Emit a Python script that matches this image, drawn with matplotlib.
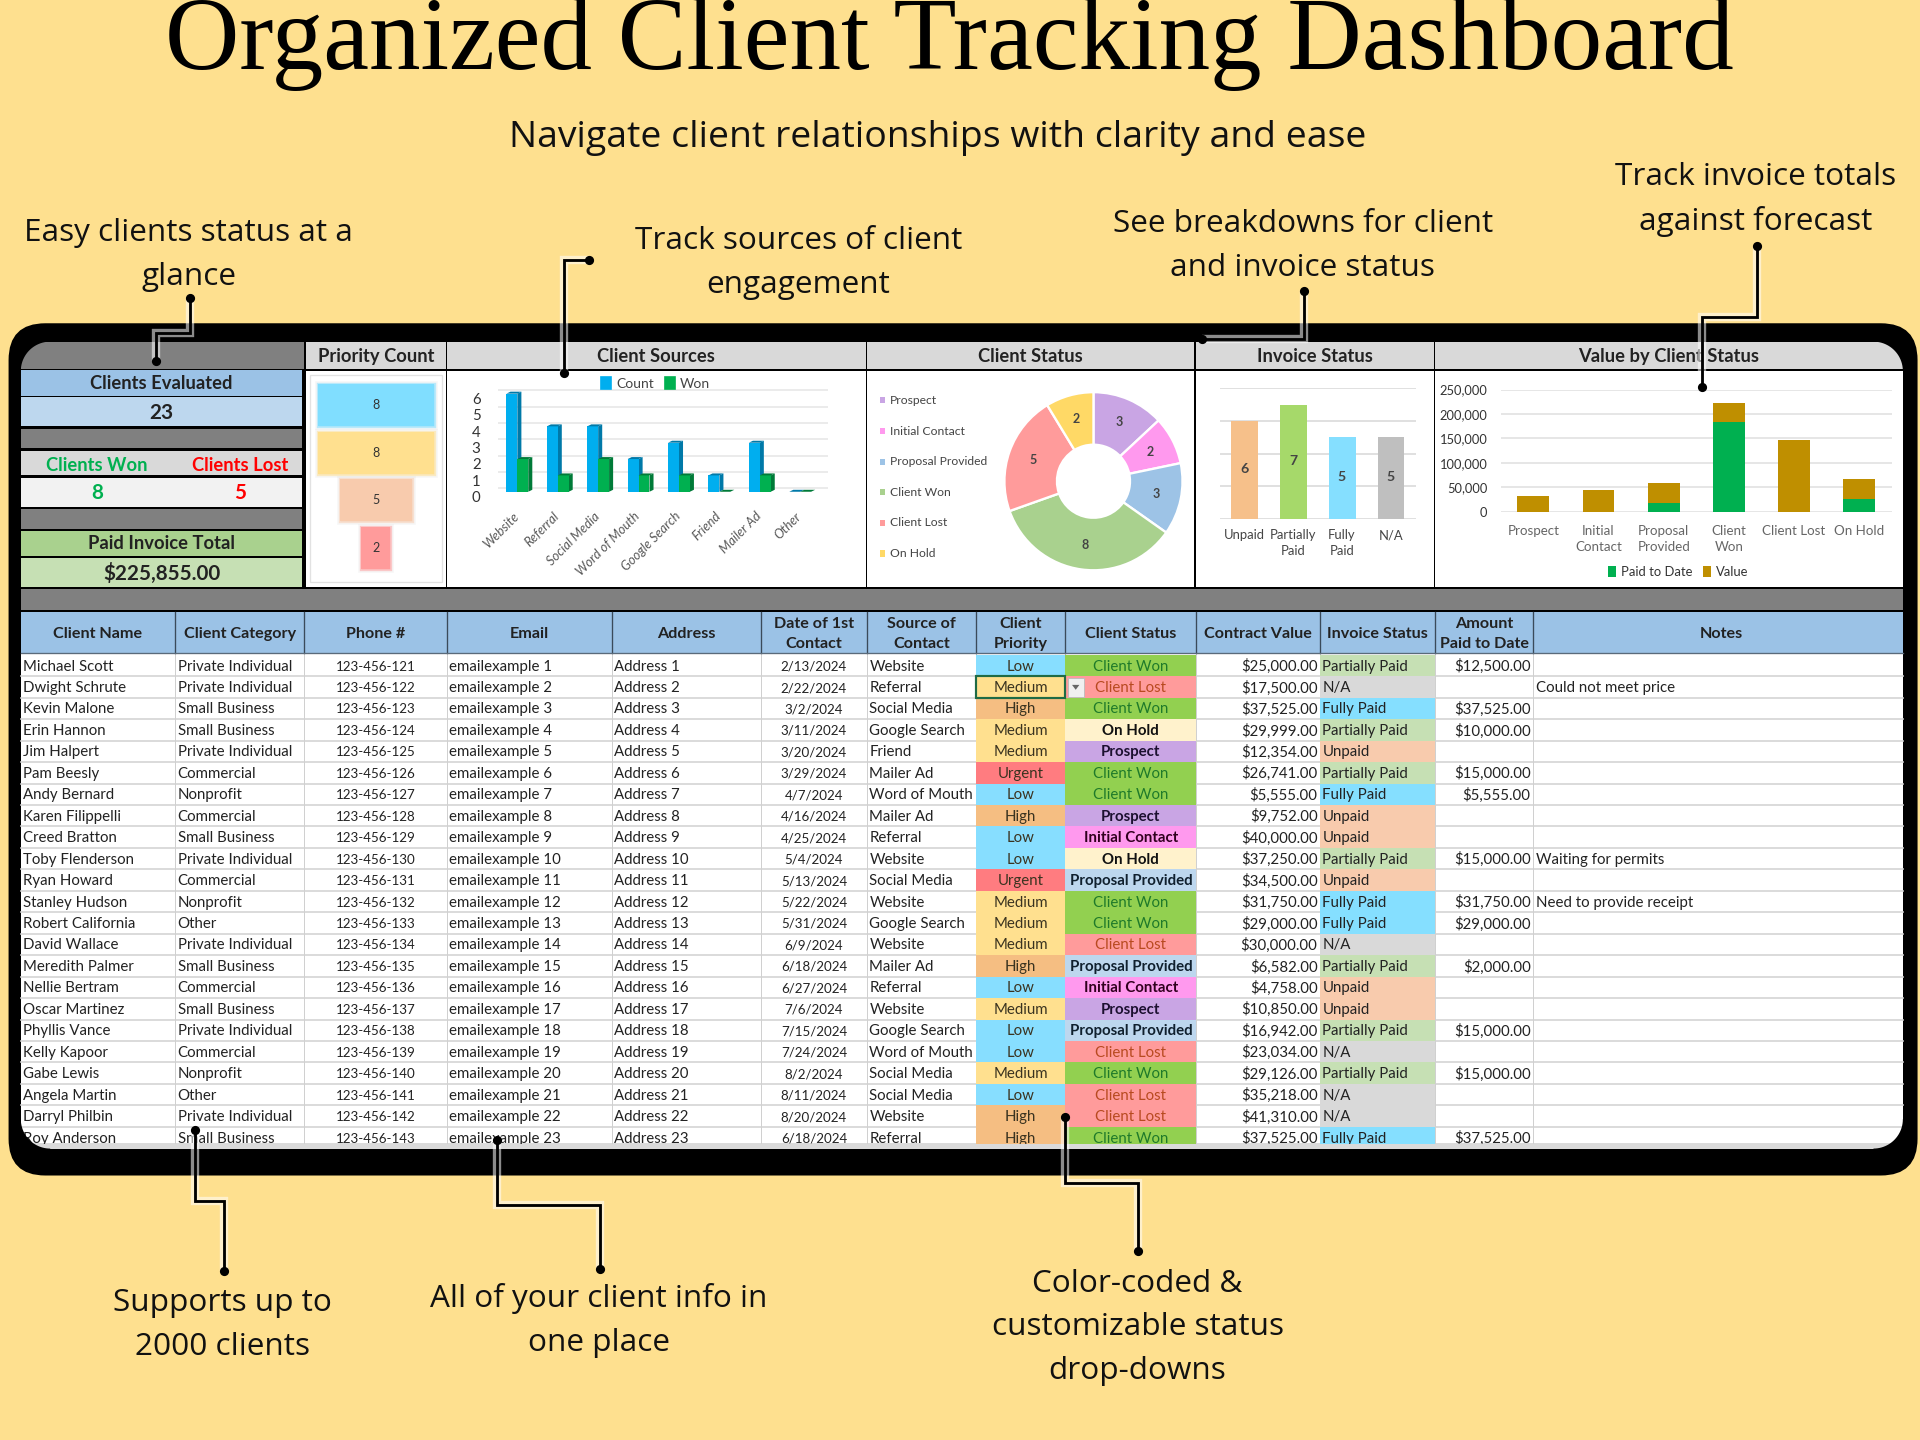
import matplotlib
matplotlib.use('Agg')
import matplotlib.pyplot as plt
import matplotlib.patheffects as pe
from matplotlib.patches import FancyBboxPatch, Rectangle, Polygon
from matplotlib.transforms import ScaledTranslation
import numpy as np

# Everything is laid out in a 1568 x 1176 grid, same aspect as the output
W, H = 1568, 1176
YELLOW = '#FEE08F'
BLUE_HEAD = '#9BC2E6'
TABLE_FONT = 'Lato'

# KPI values
clients_evaluated = '23'
clients_won = '8'
clients_lost = '5'
paid_total = '$225,855.00'

# Priority funnel
priority_names = ['Low', 'Medium', 'High', 'Urgent']
priority_counts = [8, 8, 5, 2]
funnel_colors = ['#80DEFF', '#FFE08F', '#F8CBAD', '#FF9B9B']

# Client sources chart
source_names = ['Website', 'Referral', 'Social Media', 'Word of Mouth', 'Google Search', 'Friend', 'Mailer Ad', 'Other']
source_count = [6, 4, 4, 2, 3, 1, 3, 0]
source_won = [2, 1, 2, 1, 1, 0, 1, 0]

# Client status donut
status_names = ['Prospect', 'Initial Contact', 'Proposal Provided', 'Client Won', 'Client Lost', 'On Hold']
status_counts = [3, 2, 3, 8, 5, 2]
status_colors = ['#C9A5E4', '#FF99EE', '#9DC3E6', '#A9D18E', '#FF9B9B', '#FFD966']

# Invoice status chart
invoice_names = ['Unpaid', 'Partially\nPaid', 'Fully\nPaid', 'N/A']
invoice_counts = [6, 7, 5, 5]
invoice_colors = ['#F6C08A', '#A6D96A', '#85DFFF', '#BFBFBF']

# Value by client status chart
value_names = ['Prospect', 'Initial\nContact', 'Proposal\nProvided', 'Client\nWon', 'Client Lost', 'On Hold']
value_paid = [0, 0, 17000, 183855, 0, 25000]
value_rest = [32956, 44758, 41024, 38867, 147062, 42249]

# Table columns
headers = ['Client Name', 'Client Category', 'Phone #', 'Email', 'Address', 'Date of 1st\nContact',
           'Source of\nContact', 'Client\nPriority', 'Client Status', 'Contract Value', 'Invoice Status',
           'Amount\nPaid to Date', 'Notes']
names = ['Michael Scott', 'Dwight Schrute', 'Kevin Malone', 'Erin Hannon', 'Jim Halpert', 'Pam Beesly',
         'Andy Bernard', 'Karen Filippelli', 'Creed Bratton', 'Toby Flenderson', 'Ryan Howard', 'Stanley Hudson',
         'Robert California', 'David Wallace', 'Meredith Palmer', 'Nellie Bertram', 'Oscar Martinez', 'Phyllis Vance',
         'Kelly Kapoor', 'Gabe Lewis', 'Angela Martin', 'Darryl Philbin', 'Roy Anderson']
categories = ['Private Individual', 'Private Individual', 'Small Business', 'Small Business', 'Private Individual',
              'Commercial', 'Nonprofit', 'Commercial', 'Small Business', 'Private Individual', 'Commercial',
              'Nonprofit', 'Other', 'Private Individual', 'Small Business', 'Commercial', 'Small Business',
              'Private Individual', 'Commercial', 'Nonprofit', 'Other', 'Private Individual', 'Small Business']
phones = ['123-456-121', '123-456-122', '123-456-123', '123-456-124', '123-456-125', '123-456-126', '123-456-127',
          '123-456-128', '123-456-129', '123-456-130', '123-456-131', '123-456-132', '123-456-133', '123-456-134',
          '123-456-135', '123-456-136', '123-456-137', '123-456-138', '123-456-139', '123-456-140', '123-456-141',
          '123-456-142', '123-456-143']
emails = ['emailexample 1', 'emailexample 2', 'emailexample 3', 'emailexample 4', 'emailexample 5', 'emailexample 6',
          'emailexample 7', 'emailexample 8', 'emailexample 9', 'emailexample 10', 'emailexample 11',
          'emailexample 12', 'emailexample 13', 'emailexample 14', 'emailexample 15', 'emailexample 16',
          'emailexample 17', 'emailexample 18', 'emailexample 19', 'emailexample 20', 'emailexample 21',
          'emailexample 22', 'emailexample 23']
addresses = ['Address 1', 'Address 2', 'Address 3', 'Address 4', 'Address 5', 'Address 6', 'Address 7', 'Address 8',
             'Address 9', 'Address 10', 'Address 11', 'Address 12', 'Address 13', 'Address 14', 'Address 15',
             'Address 16', 'Address 17', 'Address 18', 'Address 19', 'Address 20', 'Address 21', 'Address 22',
             'Address 23']
dates = ['2/13/2024', '2/22/2024', '3/2/2024', '3/11/2024', '3/20/2024', '3/29/2024', '4/7/2024', '4/16/2024',
         '4/25/2024', '5/4/2024', '5/13/2024', '5/22/2024', '5/31/2024', '6/9/2024', '6/18/2024', '6/27/2024',
         '7/6/2024', '7/15/2024', '7/24/2024', '8/2/2024', '8/11/2024', '8/20/2024', '6/18/2024']
sources = ['Website', 'Referral', 'Social Media', 'Google Search', 'Friend', 'Mailer Ad', 'Word of Mouth',
           'Mailer Ad', 'Referral', 'Website', 'Social Media', 'Website', 'Google Search', 'Website', 'Mailer Ad',
           'Referral', 'Website', 'Google Search', 'Word of Mouth', 'Social Media', 'Social Media', 'Website',
           'Referral']
priorities = ['Low', 'Medium', 'High', 'Medium', 'Medium', 'Urgent', 'Low', 'High', 'Low', 'Low', 'Urgent', 'Medium',
              'Medium', 'Medium', 'High', 'Low', 'Medium', 'Low', 'Low', 'Medium', 'Low', 'High', 'High']
statuses = ['Client Won', 'Client Lost', 'Client Won', 'On Hold', 'Prospect', 'Client Won', 'Client Won', 'Prospect',
            'Initial Contact', 'On Hold', 'Proposal Provided', 'Client Won', 'Client Won', 'Client Lost',
            'Proposal Provided', 'Initial Contact', 'Prospect', 'Proposal Provided', 'Client Lost', 'Client Won',
            'Client Lost', 'Client Lost', 'Client Won']
contract = [25000, 17500, 37525, 29999, 12354, 26741, 5555, 9752, 40000, 37250, 34500, 31750, 29000, 30000, 6582,
            4758, 10850, 16942, 23034, 29126, 35218, 41310, 37525]
invoices = ['Partially Paid', 'N/A', 'Fully Paid', 'Partially Paid', 'Unpaid', 'Partially Paid', 'Fully Paid',
            'Unpaid', 'Unpaid', 'Partially Paid', 'Unpaid', 'Fully Paid', 'Fully Paid', 'N/A', 'Partially Paid',
            'Unpaid', 'Unpaid', 'Partially Paid', 'N/A', 'Partially Paid', 'N/A', 'N/A', 'Fully Paid']
paid = [12500, None, 37525, 10000, None, 15000, 5555, None, None, 15000, None, 31750, 29000, None, 2000, None, None,
        15000, None, 15000, None, None, 37525]
notes = {1: 'Could not meet price', 9: 'Waiting for permits', 11: 'Need to provide receipt'}

# Conditional format colours
priority_fill = {'Low': '#87DEFF', 'Medium': '#FFE08F', 'High': '#F5BE82', 'Urgent': '#FF7C80'}
status_style = {'Client Won': ('#92D050', '#1F7A2A', 'normal'), 'Client Lost': ('#FF9B9B', '#B84A20', 'normal'),
                'On Hold': ('#FFF2CC', '#111111', 'bold'), 'Prospect': ('#C9A5E4', '#1C1030', 'bold'),
                'Initial Contact': ('#FF99EE', '#30001E', 'bold'), 'Proposal Provided': ('#BDD7EE', '#10202E', 'bold')}
invoice_fill = {'Partially Paid': '#C6E0B4', 'N/A': '#D9D9D9', 'Fully Paid': '#85DFFF', 'Unpaid': '#F8CBAD'}

# Callouts: text, centre x, centre y, then connector points
callouts = [
    ('Easy clients status at a\nglance', 154, 208.5, [(155, 243), (155, 272), (127, 272), (127, 295)]),
    ('Track sources of client\nengagement', 652, 215, [(481, 212), (461, 212), (461, 305)]),
    ('See breakdowns for client\nand invoice status', 1064, 201, [(1065, 238), (1065, 277), (982, 277)]),
    ('Track invoice totals\nagainst forecast', 1434, 163, [(1435, 201), (1435, 259), (1390, 259), (1390, 316)]),
    ('Supports up to\n2000 clients', 182, 1082, [(183, 1038), (183, 981), (159, 981), (159, 923)]),
    ('All of your client info in\none place', 489, 1078.5, [(490, 1036), (490, 984), (406, 984), (406, 931)]),
    ('Color-coded &\ncustomizable status\ndrop-downs', 929, 1084, [(929, 1022), (929, 966), (870, 966), (870, 912)]),
]


def add_chart_axes(fig, x0, y0, x1, y1):
    ax = fig.add_axes([x0 / W, 1 - y1 / H, (x1 - x0) / W, (y1 - y0) / H], zorder=2)
    ax.patch.set_alpha(0)
    for spine in ax.spines.values():
        spine.set_visible(False)
    ax.tick_params(length=0)
    return ax


def cell(ax, x0, y0, x1, y1, color, edge='none', lw=0, zorder=2):
    ax.add_patch(Rectangle((x0, y0), x1 - x0, y1 - y0, facecolor=color, edgecolor=edge, linewidth=lw, zorder=zorder))


def label(ax, x, y, text, size=9, weight='normal', color='#222222', ha='center', font=TABLE_FONT, zorder=4, **kw):
    ax.text(x, y, text, fontsize=size, fontweight=weight, color=color, ha=ha, va='center', family=font,
            zorder=zorder, **kw)


def draw_frame(ax):
    # black rounded monitor-like frame
    ax.add_patch(FancyBboxPatch((7, 264), 1559, 696, boxstyle='round,pad=0,rounding_size=30',
                                facecolor='black', edgecolor='none', zorder=1))
    cell(ax, 17, 279, 1554, 938, 'black', zorder=1.5)


def draw_corner_masks(ax):
    # black corners on top of the cells so the sheet looks rounded
    r = 24
    corners = [(17, 279, 1, 1), (1554, 279, -1, 1), (17, 938, 1, -1), (1554, 938, -1, -1)]
    theta = np.linspace(0, np.pi / 2, 24)
    for cx, cy, sx, sy in corners:
        arc_x = cx + sx * (r - r * np.cos(theta))
        arc_y = cy + sy * (r - r * np.sin(theta))
        pts = np.column_stack([np.r_[cx - sx, arc_x, cx + sx * r, cx - sx],
                               np.r_[cy + sy * r, arc_y, cy - sy, cy - sy]])
        ax.add_patch(Polygon(pts, closed=True, facecolor='black', edgecolor='none', zorder=6))


def draw_left_panel(ax):
    # header strip
    cell(ax, 17, 279, 248, 301, '#808080')
    head_cols = [(250, 364, 'Priority Count'), (365, 707, 'Client Sources'), (708, 975, 'Client Status'),
                 (977, 1171, 'Invoice Status'), (1172, 1554, 'Value by Client Status')]
    for x0, x1, title in head_cols:
        cell(ax, x0, 279, x1, 301, '#D9D9D9')
        cell(ax, x0, 303, x1, 479, 'white')
        label(ax, (x0 + x1) / 2, 291, title, size=11, weight='bold', color='#222222')

    cell(ax, 17, 302, 247, 323, BLUE_HEAD)
    label(ax, 132, 313, 'Clients Evaluated', size=11, weight='bold')
    cell(ax, 17, 324, 247, 348, '#BDD7EE')
    label(ax, 132, 337, clients_evaluated, size=12.4, weight='bold')
    cell(ax, 17, 350, 247, 366, '#808080')
    cell(ax, 17, 368, 247, 388, '#D9D9D9')
    label(ax, 79, 380, 'Clients Won', size=11, weight='bold', color='#00B050')
    label(ax, 196, 380, 'Clients Lost', size=11, weight='bold', color='#FF0000')
    cell(ax, 17, 390, 247, 414, '#F2F2F2')
    label(ax, 79, 403, clients_won, size=12.4, weight='bold', color='#00B050')
    label(ax, 196, 403, clients_lost, size=12.4, weight='bold', color='#FF0000')
    cell(ax, 17, 416, 247, 432, '#808080')
    cell(ax, 17, 434, 247, 454, '#A9D18E')
    label(ax, 132, 444, 'Paid Invoice Total', size=11, weight='bold')
    cell(ax, 17, 456, 247, 479, '#C6E0B4')
    label(ax, 132, 468, paid_total, size=12.4, weight='bold')
    # grey spacer above the table
    cell(ax, 17, 481, 1554, 498, '#808080')


def draw_table(ax):
    col_x = [17, 143, 248.5, 365, 499.5, 621.5, 708, 797, 870, 977, 1078, 1172, 1252, 1554]
    top, bottom = 500, 533.5
    row_h = 17.52
    first_row = bottom + 1.3
    cell(ax, 17, top, 1554, 938, 'white')

    for i, title in enumerate(headers):
        cell(ax, col_x[i], top, col_x[i + 1], bottom, BLUE_HEAD)
        if i > 0:
            ax.plot([col_x[i]] * 2, [top, bottom], color='#3A4A5A', lw=0.8, zorder=3)
        xc = (col_x[i] + col_x[i + 1]) / 2
        if title == 'Notes':
            xc += 3
        label(ax, xc, (top + bottom) / 2 + 1, title, size=9.7, weight='bold', linespacing=1.6)
    ax.plot([17, 1554], [bottom, bottom], color='#5A6A7A', lw=0.8, zorder=3)

    for r in range(len(names)):
        y0 = first_row + r * row_h
        y1 = y0 + row_h
        yc = (y0 + y1) / 2 + 0.8
        if y1 > 934:
            y1 = 934
        ax.plot([17, 1554], [y1, y1], color='#D4D4D4', lw=1.0, zorder=2.5)

        cell(ax, col_x[7], y0, col_x[8], y1, priority_fill[priorities[r]], zorder=2.7)
        fill, txt, weight = status_style[statuses[r]]
        cell(ax, col_x[8], y0, col_x[9], y1, fill, zorder=2.7)
        cell(ax, col_x[10], y0, col_x[11], y1, invoice_fill[invoices[r]], zorder=2.7)

        left = {0: names[r], 1: categories[r], 3: emails[r], 4: addresses[r], 6: sources[r], 10: invoices[r]}
        for c, text in left.items():
            label(ax, col_x[c] + 2, yc, text, ha='left', clip_on=True)
        label(ax, (col_x[2] + col_x[3]) / 2, yc, phones[r], size=8)
        label(ax, (col_x[5] + col_x[6]) / 2, yc, dates[r], size=8)
        label(ax, (col_x[7] + col_x[8]) / 2, yc, priorities[r], color='#3A3320')
        label(ax, (col_x[8] + col_x[9]) / 2, yc, statuses[r], color=txt, weight=weight)
        label(ax, col_x[10] - 2, yc, f'${contract[r]:,.2f}', ha='right')
        if paid[r] is not None:
            label(ax, col_x[12] - 2, yc, f'${paid[r]:,.2f}', ha='right')
        if r in notes:
            label(ax, col_x[12] + 2, yc, notes[r], ha='left')

    for x in col_x[1:-1]:
        ax.plot([x, x], [bottom, 934], color='#D0D0D0', lw=0.6, zorder=2.6)

    # scrollbar strip at the bottom of the sheet
    cell(ax, 17, 934, 1554, 938, '#DADADA', zorder=5)

    # selected cell and its drop-down button
    y0 = first_row + row_h
    ax.add_patch(Rectangle((col_x[7], y0), col_x[8] - col_x[7], row_h, facecolor='none', edgecolor='#1F6B45',
                           linewidth=1.3, zorder=4))
    cell(ax, 872, y0 + 1, 885, y0 + row_h - 1, '#F0F0F0', edge='#BBBBBB', lw=0.5, zorder=4)
    ax.add_patch(Polygon([(875.5, y0 + 7), (881.5, y0 + 7), (878.5, y0 + 11)], facecolor='#666666', zorder=5))


def draw_funnel(ax_page, fig):
    cell(ax_page, 253, 306, 361, 475, 'white', edge='#E2E2E2', lw=0.8, zorder=3)
    ax = add_chart_axes(fig, 253, 311, 361, 470)
    y = np.arange(len(priority_counts))
    bars = ax.barh(y, priority_counts, left=[-c / 2 for c in priority_counts], height=0.88, color=funnel_colors)
    for bar, count, color in zip(bars, priority_counts, funnel_colors):
        # soft edge, the reference bars look slightly blurred
        bar.set_path_effects([pe.withStroke(linewidth=4, foreground='#BBBBBB', alpha=0.12),
                              pe.withStroke(linewidth=2, foreground=color, alpha=0.5), pe.Normal()])
        ax.text(0, bar.get_y() + bar.get_height() / 2, str(count), ha='center', va='center', fontsize=7.5,
                color='#333333', family=TABLE_FONT)
    ax.set_xlim(-4.54, 4.54)
    ax.set_ylim(3.57, -0.5)
    ax.set_xticks([])
    ax.set_yticks([])


def draw_sources(fig):
    ax = add_chart_axes(fig, 406, 316, 670, 405.6)
    x = np.arange(len(source_names))
    w = 0.27
    ax.hlines(np.arange(7) + 0.2, -0.47, 7.68, color='#E8E8E8', lw=1, zorder=0, clip_on=False)
    for offset, vals, face, side in [(-w, source_count, '#00AEEF', '#0079A8'), (0, source_won, '#00B050', '#007A38')]:
        bars = ax.bar(x + offset, vals, w, align='edge', color=face, zorder=2)
        # fake 3D side and top like the Excel chart
        for bar in bars:
            x0, x1, h = bar.get_x(), bar.get_x() + bar.get_width(), bar.get_height()
            ax.fill([x1, x1 + 0.1, x1 + 0.1, x1], [0, 0.12, h + 0.12, h], color=side, zorder=1.9, lw=0)
            ax.fill([x0, x0 + 0.1, x1 + 0.1, x1], [h, h + 0.12, h + 0.12, h], color=side, zorder=2.1, lw=0)
    ax.set_xlim(-0.5, 7.5)
    ax.set_ylim(0, 6.41)
    ax.set_yticks(np.arange(7) - 0.3, [str(v) for v in range(7)], fontsize=9, family=TABLE_FONT, color='#333333')
    ax.tick_params(axis='y', pad=10)
    ax.set_xticks(x, source_names, rotation=45, ha='right', rotation_mode='anchor', fontsize=7.8,
                  family=TABLE_FONT, color='#595959', style='italic')
    ax.tick_params(axis='x', pad=8)
    for tick in ax.get_xticklabels():
        tick.set_transform(tick.get_transform() + ScaledTranslation(-3 / 72, 0, fig.dpi_scale_trans))
    handles = [Rectangle((0, 0), 1, 1, color='#00AEEF'), Rectangle((0, 0), 1, 1, color='#00B050')]
    ax.legend(handles, ['Count', 'Won'], ncol=2, frameon=False, loc='center', bbox_to_anchor=(0.49, 1.03),
              prop={'family': TABLE_FONT, 'size': 8.3}, handlelength=0.7, handleheight=0.9, handletextpad=0.4,
              columnspacing=0.8, labelcolor='#444444')


def draw_status_donut(ax_page, fig):
    ys = [327, 352, 377, 402, 427, 452]
    for name, color, y in zip(status_names, status_colors, ys):
        cell(ax_page, 718.5, y - 2.5, 722.5, y + 2.5, color, zorder=3)
        label(ax_page, 727, y, name, size=7.3, ha='left', color='#444444')
    ax = add_chart_axes(fig, 813, 313, 973, 473)
    wedges, _ = ax.pie(status_counts, colors=status_colors, startangle=90, counterclock=False, radius=1,
                       wedgeprops=dict(width=0.59, edgecolor='white', linewidth=1.4))
    for wedge, count in zip(wedges, status_counts):
        angle = np.deg2rad((wedge.theta1 + wedge.theta2) / 2)
        ax.text(0.72 * np.cos(angle), 0.72 * np.sin(angle), str(count), ha='center', va='center', fontsize=7.5,
                color='#444444', family=TABLE_FONT, fontweight='bold')
    ax.set_xlim(-1.1, 1.1)
    ax.set_ylim(-1.1, 1.1)


def draw_invoice(fig):
    ax = add_chart_axes(fig, 996, 317, 1156, 424)
    x = np.arange(len(invoice_counts))
    ax.set_axisbelow(True)
    ax.grid(axis='y', color='#DADADA', lw=1)
    bars = ax.bar(x, invoice_counts, 0.55, color=invoice_colors)
    for bar, count in zip(bars, invoice_counts):
        ax.text(bar.get_x() + bar.get_width() / 2, count / 2 + 0.05, str(count), ha='center', va='center',
                fontsize=8.5, color='#444444', family=TABLE_FONT, fontweight='bold')
    ax.set_xlim(-0.5, 3.5)
    ax.set_ylim(0, 8)
    ax.set_yticks([0, 2, 4, 6, 8], [])
    ax.set_xticks(x, invoice_names, fontsize=7.8, family=TABLE_FONT, color='#444444', linespacing=1.4)
    ax.tick_params(axis='x', pad=6)


def draw_value(fig):
    ax = add_chart_axes(fig, 1225.6, 318.2, 1545, 417.8)
    x = np.arange(len(value_names))
    ax.set_axisbelow(True)
    ax.grid(axis='y', color='#E2E2E2', lw=1)
    ax.bar(x, value_paid, 0.49, color='#00B050', label='Paid to Date')
    ax.bar(x, value_rest, 0.49, bottom=value_paid, color='#BF8F00', label='Value')
    ax.set_xlim(-0.5, 5.5)
    ax.set_ylim(0, 250000)
    ax.set_yticks(np.arange(0, 250001, 50000), ['0', '50,000', '100,000', '150,000', '200,000', '250,000'],
                  fontsize=7.7, family=TABLE_FONT, color='#333333')
    ax.tick_params(axis='y', pad=8)
    ax.set_xticks(x, value_names, fontsize=8, family=TABLE_FONT, color='#666666', linespacing=1.4)
    ax.tick_params(axis='x', pad=8)
    ax.legend(ncol=2, frameon=False, loc='center', bbox_to_anchor=(0.455, -0.495),
              prop={'family': TABLE_FONT, 'size': 7.8}, handlelength=0.6, handleheight=0.9, handletextpad=0.4,
              columnspacing=0.8, labelcolor='#333333')


def draw_callouts(ax):
    halo = [pe.withStroke(linewidth=5, foreground='white', alpha=0.55)]
    for text, tx, ty, pts in callouts:
        xs, ys = zip(*pts)
        ax.plot(xs, ys, color='black', lw=1.7, solid_joinstyle='miter', solid_capstyle='butt', path_effects=halo,
                zorder=8)
        ax.plot([xs[0], xs[-1]], [ys[0], ys[-1]], 'o', color='black', ms=4.5, zorder=9)
        ax.text(tx, ty, text, ha='center', va='center', fontsize=18.9, family='Open Sans', color='#111111',
                linespacing=1.6, zorder=9)


# Main figure
fig = plt.figure(figsize=(16, 12), dpi=120, facecolor=YELLOW)

page = fig.add_axes([0, 0, 1, 1], zorder=0)
page.set_xlim(0, W)
page.set_ylim(H, 0)
page.axis('off')

# Titles
page.text(775, 36, 'Organized Client Tracking Dashboard', ha='center', va='center', fontsize=61.8,
          family='Liberation Serif', color='black')
page.text(766, 113, 'Navigate client relationships with clarity and ease', ha='center', va='center',
          fontsize=22.4, family='Open Sans', color='#111111')

draw_frame(page)
draw_left_panel(page)
draw_table(page)
draw_corner_masks(page)

# Charts
draw_funnel(page, fig)
draw_sources(fig)
draw_status_donut(page, fig)
draw_invoice(fig)
draw_value(fig)

# Connector lines go above the charts
overlay = fig.add_axes([0, 0, 1, 1], zorder=5)
overlay.set_xlim(0, W)
overlay.set_ylim(H, 0)
overlay.axis('off')
overlay.patch.set_alpha(0)
draw_callouts(overlay)

fig.savefig('out.png', dpi=120, facecolor=YELLOW)
